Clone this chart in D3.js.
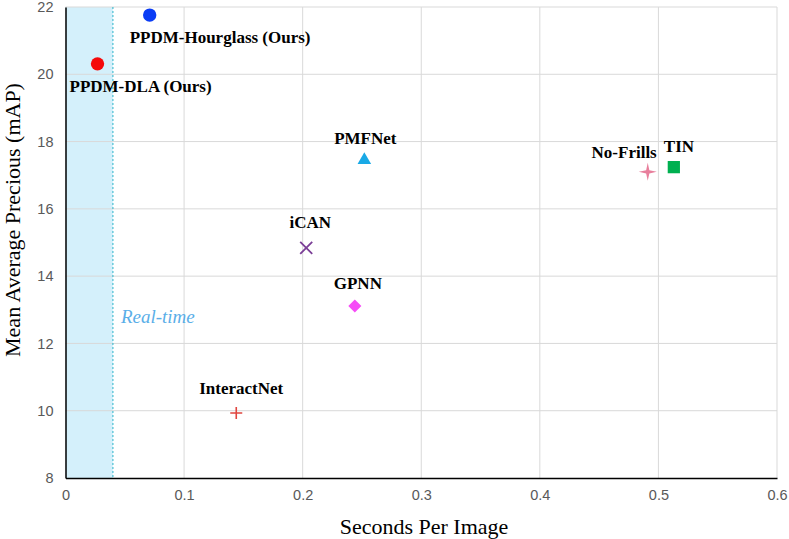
<!DOCTYPE html>
<html>
<head>
<meta charset="utf-8">
<script src="https://cdn.jsdelivr.net/npm/d3@7"></script>
<style>
  body { margin: 0; background: #fff; }
  .tick text { font-family: "Liberation Sans", Arial, sans-serif; font-size: 14.5px; fill: #595959; }
  .lbl { font-family: "Liberation Serif", "Times New Roman", serif; font-weight: bold; font-size: 17px; fill: #000; }
  .title { font-family: "Liberation Serif", "Times New Roman", serif; font-size: 22px; fill: #000; }
</style>
</head>
<body>
<div id="chart"></div>
<script>
// Chart data
var methods = ['PPDM-Hourglass (Ours)', 'PPDM-DLA (Ours)', 'PMFNet', 'No-Frills', 'TIN', 'iCAN', 'GPNN', 'InteractNet'];
var seconds = [0.071, 0.027, 0.252, 0.491, 0.513, 0.203, 0.244, 0.144];
var mAP     = [21.76, 20.31, 17.45, 17.10, 17.24, 14.84, 13.11, 9.93];
var xTicks = [0, 0.1, 0.2, 0.3, 0.4, 0.5, 0.6];
var yTicks = [8, 10, 12, 14, 16, 18, 20, 22];
var realTime = 0.04;

// Marker styles and label placement (pixel offsets from the point)
var shapes  = ['circle', 'circle', 'triangle', 'star4', 'square', 'cross', 'diamond', 'plus'];
var colors  = ['#0a3cf5', '#f50a0a', '#19a9e6', '#e87f9c', '#00b050', '#7b3f97', '#f64cf7', '#e0453f'];
var labelDx = [-20, -28, 1, 9, -10, 4, 3, 5];
var labelDy = [28, 28, -16, -14, -15, -20, -17, -19];
var anchors = ['start', 'start', 'middle', 'end', 'start', 'middle', 'middle', 'middle'];

var width = 789, height = 539;
var margin = {top: 7, right: 12, bottom: 61, left: 65.5};

var svg = d3.select('#chart').append('svg')
    .attr('width', width)
    .attr('height', height);

var x = d3.scaleLinear().domain([0, 0.6]).range([margin.left, width - margin.right]);
var y = d3.scaleLinear().domain([8, 22]).range([height - margin.bottom, margin.top]);

// Real-time band
svg.append('rect')
    .attr('x', x(0))
    .attr('y', y(22))
    .attr('width', x(realTime) - x(0))
    .attr('height', y(8) - y(22))
    .attr('fill', '#d4f0fb');

// Grid lines
svg.append('g')
    .selectAll('line')
    .data(xTicks.slice(1))
    .enter().append('line')
    .attr('x1', d => x(d)).attr('x2', d => x(d))
    .attr('y1', y(22)).attr('y2', y(8))
    .attr('stroke', '#d9d9d9');

svg.append('g')
    .selectAll('line')
    .data(yTicks.slice(1))
    .enter().append('line')
    .attr('x1', x(0)).attr('x2', x(0.6))
    .attr('y1', d => y(d)).attr('y2', d => y(d))
    .attr('stroke', '#d9d9d9');

// Dashed real-time boundary
svg.append('line')
    .attr('x1', x(realTime)).attr('x2', x(realTime))
    .attr('y1', y(22)).attr('y2', y(8))
    .attr('stroke', '#2bb3c9')
    .attr('stroke-dasharray', '2,2');

svg.append('text')
    .attr('x', x(realTime) + 8)
    .attr('y', y(12.6))
    .attr('font-family', '"Liberation Serif", serif')
    .attr('font-style', 'italic')
    .attr('font-size', '19px')
    .attr('fill', '#5aaee8')
    .text('Real-time');

// Axes
var xAxis = svg.append('g')
    .attr('transform', 'translate(0,' + y(8) + ')')
    .call(d3.axisBottom(x).tickValues(xTicks).tickSize(0).tickPadding(12).tickFormat(d => d === 0 ? '0' : d3.format('.1f')(d)));
xAxis.select('.domain').attr('stroke', '#000').attr('stroke-width', 1.5);

var yAxis = svg.append('g')
    .attr('transform', 'translate(' + x(0) + ',0)')
    .call(d3.axisLeft(y).tickValues(yTicks).tickSize(0).tickPadding(12));
yAxis.select('.domain').attr('stroke', '#000').attr('stroke-width', 1.5);

// Axis titles
svg.append('text')
    .attr('class', 'title')
    .attr('x', 424)
    .attr('y', 534)
    .attr('text-anchor', 'middle')
    .text('Seconds Per Image');

svg.append('text')
    .attr('class', 'title')
    .attr('transform', 'translate(20,220) rotate(-90)')
    .attr('text-anchor', 'middle')
    .text('Mean Average Precious (mAP)');

// Markers
var symbolFor = {
    circle: d3.symbol().type(d3.symbolCircle).size(140),
    triangle: d3.symbol().type(d3.symbolTriangle).size(80),
    square: d3.symbol().type(d3.symbolSquare).size(150),
    diamond: d3.symbol().type(d3.symbolSquare).size(85)
};

var points = methods.map(function(m, i) {
    return {name: m, sx: seconds[i], my: mAP[i], shape: shapes[i], color: colors[i],
            dx: labelDx[i], dy: labelDy[i], anchor: anchors[i]};
});

var g = svg.append('g');
points.forEach(function(p) {
    var px = x(p.sx), py = y(p.my);
    var t = 'translate(' + px + ',' + py + ')';
    if (p.shape === 'diamond') {
        g.append('path')
            .attr('d', symbolFor.diamond())
            .attr('transform', t + ' rotate(45)')
            .attr('fill', p.color);
    } else if (symbolFor[p.shape]) {
        g.append('path')
            .attr('d', symbolFor[p.shape]())
            .attr('transform', t)
            .attr('fill', p.color);
    } else if (p.shape === 'cross') {
        g.append('path')
            .attr('d', 'M-6,-6L6,6M-6,6L6,-6')
            .attr('transform', t)
            .attr('stroke', p.color).attr('stroke-width', 1.8);
    } else if (p.shape === 'plus') {
        g.append('path')
            .attr('d', 'M-6,0L6,0M0,-6L0,6')
            .attr('transform', t)
            .attr('stroke', p.color).attr('stroke-width', 1.6);
    } else if (p.shape === 'star4') {
        g.append('path')
            .attr('d', 'M0,-9L1.6,-1.6L9,0L1.6,1.6L0,9L-1.6,1.6L-9,0L-1.6,-1.6Z')
            .attr('transform', t)
            .attr('fill', p.color);
    }
    g.append('text')
        .attr('class', 'lbl')
        .attr('x', px + p.dx)
        .attr('y', py + p.dy)
        .attr('text-anchor', p.anchor)
        .text(p.name);
});
</script>
</body>
</html>
